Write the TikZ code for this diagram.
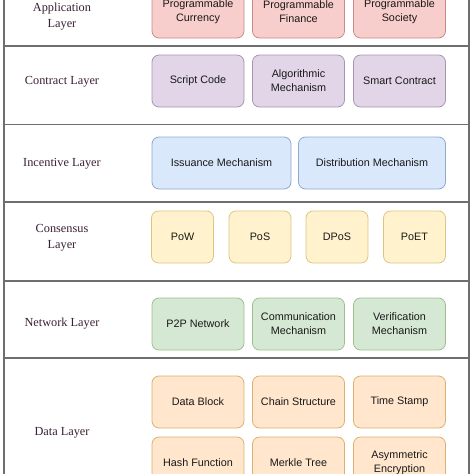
\documentclass[tikz,border=0pt]{standalone}
\usepackage{fontspec}
\setmainfont{Liberation Serif}
\setsansfont{Liberation Sans}

\begin{document}
\begin{tikzpicture}[
    x=1pt,
    y=-1pt,
    line cap=round,
    line join=round
]

\definecolor{AppFill}{HTML}{F8CECC}
\definecolor{AppLine}{HTML}{C98A87}
\definecolor{ContractFill}{HTML}{E1D5E7}
\definecolor{ContractLine}{HTML}{A896B0}
\definecolor{IncentiveFill}{HTML}{DAE8FC}
\definecolor{IncentiveLine}{HTML}{8FA8CC}
\definecolor{ConsensusFill}{HTML}{FFF2CC}
\definecolor{ConsensusLine}{HTML}{DCC584}
\definecolor{NetworkFill}{HTML}{D5E8D4}
\definecolor{NetworkLine}{HTML}{9FC08E}
\definecolor{DataFill}{HTML}{FFE6CC}
\definecolor{DataLine}{HTML}{DDB070}
\definecolor{LabelInk}{HTML}{3B1F35}
\definecolor{FrameGray}{HTML}{6E6E6E}

\tikzset{
    layer box/.style={
        rounded corners=7pt,
        draw=#1Line,
        fill=#1Fill,
        line width=0.8pt,
        minimum width=92pt,
        minimum height=52pt,
        inner sep=0pt,
        align=center,
        text=black!90,
        font=\sffamily\fontsize{10.8}{14}\selectfont
    },
    layer label/.style={
        align=center,
        text=LabelInk,
        font=\fontsize{12.3}{16}\selectfont
    },
    frame line/.style={
        draw=FrameGray,
        line width=1.1pt
    }
}

\path[use as bounding box, clip] (0,0) rectangle (474,474);

% frame and layer rules
\draw[frame line] (4,0) -- (4,474);
\draw[frame line] (469,0) -- (469,474);
\foreach \y in {46,124.5,202,281,358} {
    \draw[frame line] (4,\y) -- (469,\y);
}

% layer names
\node[layer label] (applabel) at (62,17) {Application\\Layer};
\node[layer label] (contractlabel) at (62,82) {Contract Layer};
\node[layer label] (incentivelabel) at (62,164) {Incentive Layer};
\node[layer label] (consensuslabel) at (62,238) {Consensus\\Layer};
\node[layer label] (networklabel) at (62,324) {Network Layer};
\node[layer label] (datalabel) at (62,433) {Data Layer};

% application layer
\node[layer box=App] (app1) at (198,12) {Programmable\\Currency};
\node[layer box=App] (app2) at (298.5,12) {Programmable\\Finance};
\node[layer box=App] (app3) at (399.5,12) {Programmable\\Society};

% contract layer
\node[layer box=Contract] (con1) at (198,81) {Script Code};
\node[layer box=Contract] (con2) at (298.5,81) {Algorithmic\\Mechanism};
\node[layer box=Contract] (con3) at (399.5,81) {Smart Contract};

% incentive layer
\node[layer box=Incentive, minimum width=139pt] (inc1) at (221.5,163) {Issuance Mechanism};
\node[layer box=Incentive, minimum width=147pt] (inc2) at (372,163) {Distribution Mechanism};

% consensus layer
\foreach \x/\name/\txt in {182.5/cons1/PoW,260/cons2/PoS,337/cons3/DPoS,414.5/cons4/PoET} {
    \node[layer box=Consensus, minimum width=62pt] (\name) at (\x,237) {\txt};
}

% network layer
\node[layer box=Network] (net1) at (198,324) {P2P Network};
\node[layer box=Network] (net2) at (298.5,324) {Communication\\Mechanism};
\node[layer box=Network] (net3) at (399.5,324) {Verification\\Mechanism};

% data layer
\node[layer box=Data] (data1) at (198,402) {Data Block};
\node[layer box=Data] (data2) at (298.5,402) {Chain Structure};
\node[layer box=Data] (data3) at (399.5,402) {Time Stamp};
\node[layer box=Data] (data4) at (198,463) {Hash Function};
\node[layer box=Data] (data5) at (298.5,463) {Merkle Tree};
\node[layer box=Data] (data6) at (399.5,463) {Asymmetric\\Encryption};

\end{tikzpicture}
\end{document}
